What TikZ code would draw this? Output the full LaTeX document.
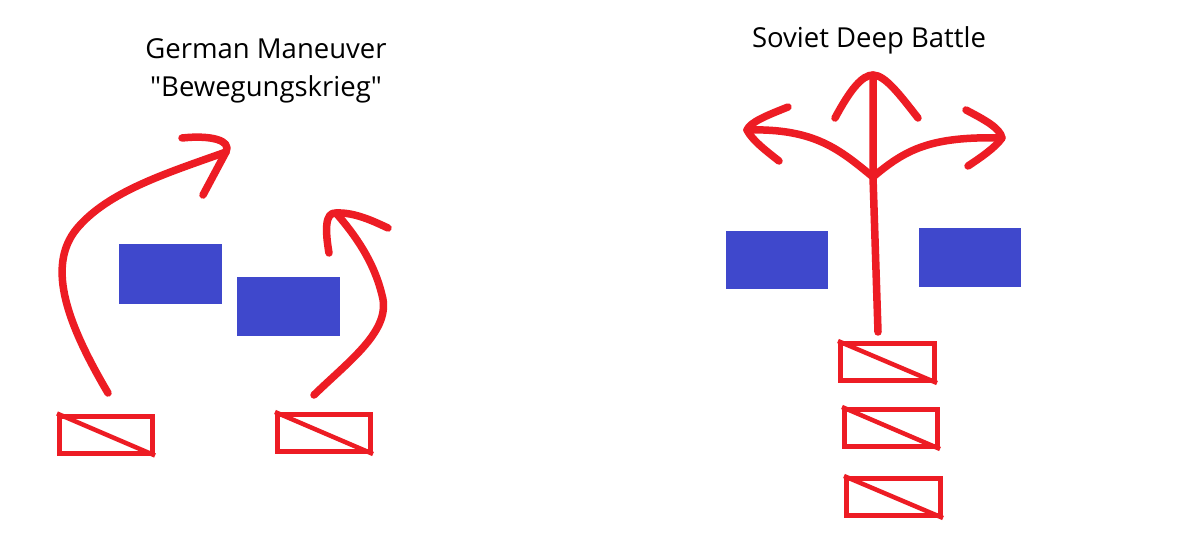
\documentclass[tikz,border=0pt]{standalone}
\usepackage{fontspec}
\setmainfont{Open Sans}
\definecolor{pred}{RGB}{237,28,36}
\definecolor{pblue}{RGB}{63,72,204}
\begin{document}
\begin{tikzpicture}[x=1pt,y=-1pt,
  unitbox/.style={draw=pred,line width=5pt,inner sep=0pt,minimum width=93pt,minimum height=37pt},
  diag/.style={draw=pred,line width=4.5pt},
  enemy/.style={fill=pblue,inner sep=0pt,draw=none},
  stroke/.style={draw=pred,line width=7.5pt,line cap=round,line join=round},
  title/.style={font=\fontsize{27.5}{33}\selectfont,anchor=base,inner sep=0pt}]
\useasboundingbox (0,0) rectangle (1200,559);
\fill[white] (0,0) rectangle (1200,559);
% titles
\node[title] (gt1) at (266,59) {German Maneuver};
\node[title] (gt2) at (266,97) {\textquotedbl Bewegungskrieg\textquotedbl};
\node[title] (st) at (869,48) {Soviet Deep Battle};
% enemy blocks
\node[enemy,minimum width=103pt,minimum height=60pt] (e1) at (170.5,274) {};
\node[enemy,minimum width=103pt,minimum height=59pt] (e2) at (288.5,306.5) {};
\node[enemy,minimum width=102pt,minimum height=58pt] (e3) at (777,260) {};
\node[enemy,minimum width=102pt,minimum height=59pt] (e4) at (970,257.5) {};
% unit boxes
\node[unitbox] (u1) at (106,434.5) {};
\node[unitbox] (u2) at (324,433) {};
\node[unitbox,minimum width=94pt] (uA) at (887.5,362) {};
\node[unitbox] (uB) at (891,428) {};
\node[unitbox,minimum width=94pt] (uC) at (893.5,497) {};
\foreach \n in {u1,u2,uA,uB,uC}
  \draw[diag] (\n.north west) -- (\n.south east);
% German arrows
\coordinate (a1s) at (108,393);
\coordinate (a1t) at (226,152);
\draw[stroke] (a1s) .. controls (65,320) and (45,262) .. (80,225) .. controls (112,190) and (170,172) .. (a1t);
\draw[stroke] (182,138) .. controls (210,135) and (232,140) .. (a1t) -- (203,195);
\coordinate (a2s) at (314,395);
\coordinate (a2t) at (336,213);
\draw[stroke] (a2s) .. controls (350,360) and (392,330) .. (382,295) .. controls (374,262) and (356,236) .. (a2t);
\draw[stroke] (329,253) .. controls (325,230) and (325,212) .. (a2t) .. controls (355,212) and (375,222) .. (388,228);
% Soviet arrows
\coordinate (ss) at (878,332);
\coordinate (sj) at (873,177);
\coordinate (stop) at (873,75);
\coordinate (sl) at (747,130);
\coordinate (sr) at (1002,138);
\draw[stroke] (ss) -- (sj) -- (stop);
\draw[stroke] (835,118) .. controls (850,90) and (862,75) .. (stop) .. controls (885,75) and (900,95) .. (918,118);
\draw[stroke] (sj) .. controls (840,150) and (815,128) .. (sl);
\draw[stroke] (788,107) .. controls (768,115) and (750,122) .. (sl) .. controls (752,140) and (765,150) .. (779,161);
\draw[stroke] (sj) .. controls (905,150) and (930,136) .. (sr);
\draw[stroke] (966,110) .. controls (985,120) and (1000,128) .. (sr) .. controls (995,148) and (980,158) .. (968,166);
\end{tikzpicture}
\end{document}
